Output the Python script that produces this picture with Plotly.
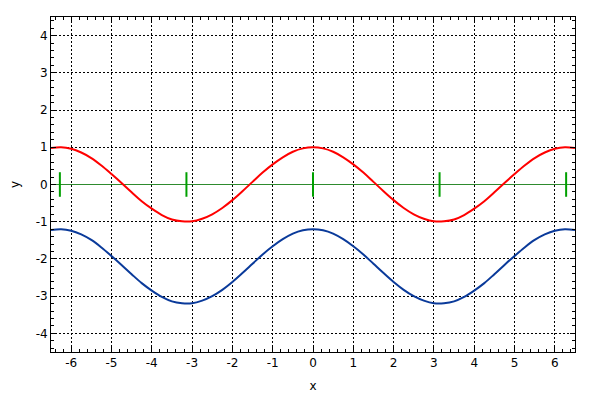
import plotly.graph_objects as go

# Data
x_vals = [-6.5, -6.25, -6.0, -5.75, -5.5, -5.25, -5.0, -4.75, -4.5, -4.25, -4.0,
          -3.75, -3.5, -3.25, -3.0, -2.75, -2.5, -2.25, -2.0, -1.75, -1.5, -1.25,
          -1.0, -0.75, -0.5, -0.25, 0.0, 0.25, 0.5, 0.75, 1.0, 1.25, 1.5, 1.75,
          2.0, 2.25, 2.5, 2.75, 3.0, 3.25, 3.5, 3.75, 4.0, 4.25, 4.5, 4.75, 5.0,
          5.25, 5.5, 5.75, 6.0, 6.25, 6.5]
red_vals = [0.98, 1.0, 0.96, 0.86, 0.71, 0.51, 0.28, 0.04, -0.21, -0.45, -0.65,
            -0.82, -0.94, -0.99, -0.99, -0.92, -0.80, -0.63, -0.42, -0.18, 0.07, 0.32,
            0.54, 0.73, 0.88, 0.97, 1.0, 0.97, 0.88, 0.73, 0.54, 0.32, 0.07, -0.18,
            -0.42, -0.63, -0.80, -0.92, -0.99, -0.99, -0.94, -0.82, -0.65, -0.45, -0.21, 0.04, 0.28,
            0.51, 0.71, 0.86, 0.96, 1.0, 0.98]
blue_vals = [-1.22, -1.2, -1.24, -1.34, -1.49, -1.69, -1.92, -2.16, -2.41, -2.65, -2.85,
             -3.02, -3.14, -3.19, -3.19, -3.12, -3.0, -2.83, -2.62, -2.38, -2.13, -1.88,
             -1.66, -1.47, -1.32, -1.23, -1.2, -1.23, -1.32, -1.47, -1.66, -1.88, -2.13, -2.38,
             -2.62, -2.83, -3.0, -3.12, -3.19, -3.19, -3.14, -3.02, -2.85, -2.65, -2.41, -2.16, -1.92,
             -1.69, -1.49, -1.34, -1.24, -1.2, -1.22]
tick_x = [-6.28, -3.14, 0.0, 3.14, 6.28]
tick_half = [0.33, 0.33, 0.33, 0.33, 0.33]

x_ticks = [-6, -5, -4, -3, -2, -1, 0, 1, 2, 3, 4, 5, 6]
x_labels = ["-6", "-5", "-4", "-3", "-2", "-1", "0", "1", "2", "3", "4", "5", "6"]
y_ticks = [-4, -3, -2, -1, 0, 1, 2, 3, 4]
y_labels = ["-4", "-3", "-2", "-1", "0", "1", "2", "3", "4"]

FONT = dict(family="DejaVu Sans", size=12, color="black")

fig = go.Figure()
fig.add_trace(go.Scatter(
    x=tick_x, y=[0] * len(tick_x), mode="markers",
    marker=dict(size=0.1, color="rgba(0,0,0,0)"),
    error_y=dict(type="data", array=tick_half, width=0, thickness=2, color="#00a000"),
    hoverinfo="skip",
))
fig.add_trace(go.Scatter(
    x=x_vals, y=red_vals, mode="lines", line=dict(color="#ff0000", width=2, shape="spline"),
))
fig.add_trace(go.Scatter(
    x=x_vals, y=blue_vals, mode="lines", line=dict(color="#0a3a9a", width=2, shape="spline"),
))

axis_common = dict(
    showline=True, linecolor="black", linewidth=1, mirror="allticks",
    ticks="inside", ticklen=5, tickcolor="black", tickwidth=1,
    showgrid=True, gridcolor="black", gridwidth=1, griddash="2px,2px",
    tickfont=FONT, automargin=False, tickmode="array",
    minor=dict(ticks="inside", ticklen=3, tickcolor="black", dtick=0.2, showgrid=False),
)

fig.update_xaxes(range=[-6.5, 6.5], tickvals=x_ticks, ticktext=x_labels, zeroline=False,
                 title=dict(text="x", font=FONT, standoff=12), **axis_common)
fig.update_yaxes(range=[-4.5, 4.5], tickvals=y_ticks, ticktext=y_labels,
                 zeroline=True, zerolinecolor="#2e8b2e", zerolinewidth=1,
                 title=dict(text="y", font=FONT, standoff=30), **axis_common)

fig.update_layout(
    width=600, height=400, showlegend=False,
    plot_bgcolor="white", paper_bgcolor="white",
    margin=dict(l=43, r=33, t=9, b=56),
    font=FONT,
)

fig.write_html("out.html")
